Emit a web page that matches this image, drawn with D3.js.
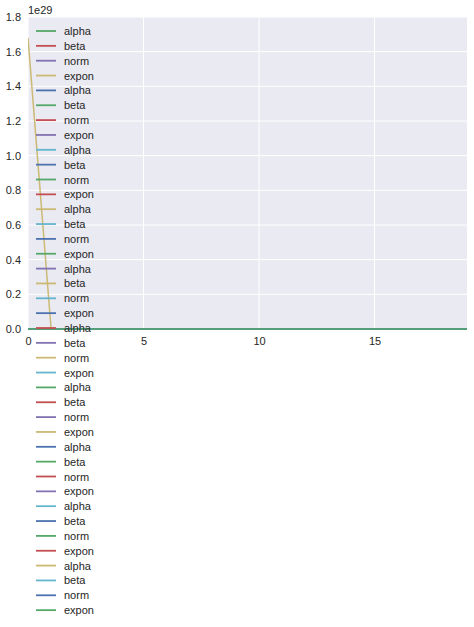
<!DOCTYPE html>
<html><head><meta charset="utf-8">
<script src="https://cdn.jsdelivr.net/npm/d3@7/dist/d3.min.js"></script>
<style>body{margin:0;background:#fff}svg{display:block}text{font-family:"Liberation Sans",Arial,sans-serif}</style>
</head><body><svg id="c" width="474" height="627"></svg>
<script>
const xValues = [0,1,2,3,4,5,6,7,8,9,10,11,12,13,14,15,16,17,18,19];
const seriesNames = ["alpha","beta","norm","expon"];
const flatValues = [0,0,0,0,0,0,0,0,0,0,0,0,0,0,0,0,0,0,0,0];
const spikeValues = [1.68e29,0,0,0,0,0,0,0,0,0,0,0,0,0,0,0,0,0,0,0];
const spikeSeriesIndex = 3;
const seriesColors = ["#55A868","#C44E52","#8172B2","#CCB974","#4C72B0","#55A868","#C44E52","#8172B2","#64B5CD","#4C72B0","#55A868","#C44E52","#CCB974","#64B5CD","#4C72B0","#55A868","#8172B2","#CCB974","#64B5CD","#4C72B0","#C44E52","#8172B2","#CCB974","#64B5CD"];
const seriesCount = 40;
const yTicks = [0,0.2e29,0.4e29,0.6e29,0.8e29,1.0e29,1.2e29,1.4e29,1.6e29,1.8e29];
const xTicks = [0,5,10,15];

const series = d3.range(seriesCount).map(i => ({
  name: seriesNames[i % 4],
  color: seriesColors[i % seriesColors.length],
  values: (i === spikeSeriesIndex ? spikeValues : flatValues)
}));

const svg = d3.select("#c");
const m = {l:28, r:467, t:17, b:329};
const x = d3.scaleLinear().domain([0,19]).range([m.l,m.r]);
const y = d3.scaleLinear().domain([0,1.8e29]).range([m.b,m.t]);

svg.append("rect").attr("x",m.l).attr("y",m.t).attr("width",m.r-m.l).attr("height",m.b-m.t).attr("fill","#EAEAF2");
const g = svg.append("g");
g.selectAll(".gy").data(yTicks).join("line").attr("x1",m.l).attr("x2",m.r)
  .attr("y1",d=>y(d)).attr("y2",d=>y(d)).attr("stroke","#fff").attr("stroke-width",1);
g.selectAll(".gx").data(xTicks).join("line").attr("y1",m.t).attr("y2",m.b)
  .attr("x1",d=>x(d)).attr("x2",d=>x(d)).attr("stroke","#fff").attr("stroke-width",1);

const yAxis = svg.append("g").attr("transform",`translate(${m.l},0)`)
  .call(d3.axisLeft(y).tickValues(yTicks).tickSize(0).tickPadding(7).tickFormat(d=>(d/1e29).toFixed(1)));
const xAxis = svg.append("g").attr("transform",`translate(0,${m.b})`)
  .call(d3.axisBottom(x).tickValues(xTicks).tickSize(0).tickPadding(8).tickFormat(d3.format("d")));
[yAxis,xAxis].forEach(a=>{a.select(".domain").remove();a.selectAll("text").attr("font-size",11).attr("fill","#262626").style("font-family","'Liberation Sans',Arial,sans-serif");});
svg.append("text").attr("x",m.l).attr("y",14).attr("font-size",11).attr("fill","#262626").text("1e29");

const clip = svg.append("clipPath").attr("id","pc").append("rect").attr("x",m.l).attr("y",m.t-2).attr("width",m.r-m.l).attr("height",m.b-m.t+4);
const line = d3.line().x((d,i)=>x(xValues[i])).y(d=>y(d));
svg.append("g").attr("clip-path","url(#pc)").selectAll("path").data(series).join("path")
  .attr("d",d=>line(d.values)).attr("fill","none").attr("stroke",d=>d.color).attr("stroke-width",1.5);

const leg = svg.append("g");
const rowY = i => 31 + i*14.85;
const items = leg.selectAll("g").data(series).join("g").attr("transform",(d,i)=>`translate(0,${rowY(i)})`);
items.append("line").attr("x1",36).attr("x2",56).attr("y1",0).attr("y2",0).attr("stroke",d=>d.color).attr("stroke-width",1.8);
items.append("text").attr("x",64).attr("y",4).attr("font-size",11).attr("fill","#262626").text(d=>d.name);
</script></body></html>
